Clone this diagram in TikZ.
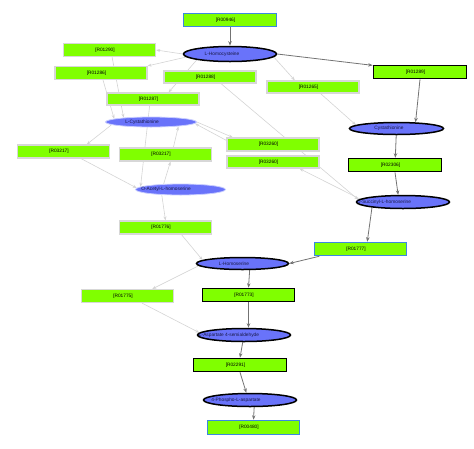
\documentclass[tikz,border=0pt]{standalone}
\usepackage{fontspec}
\setmainfont{Liberation Sans}
\usetikzlibrary{arrows.meta,backgrounds,calc,shapes.geometric}
\definecolor{boxgreen}{RGB}{128,255,0}
\definecolor{ellblue}{RGB}{105,115,250}
\definecolor{lightedge}{RGB}{212,212,212}
\definecolor{darkedge}{RGB}{115,115,115}
\definecolor{boxblue}{RGB}{60,135,225}
\definecolor{boxgray}{RGB}{215,215,215}
\definecolor{elllight}{RGB}{200,205,255}
\definecolor{cpdtext}{RGB}{25,25,70}
\tikzset{
 rxn/.style={rectangle, fill=boxgreen, minimum width=92pt, minimum height=13pt, inner sep=0pt,
   font=\fontsize{4.8}{5}\selectfont, execute at begin node=\kern-9pt},
 rxnlight/.style={rxn, draw=boxgray, line width=1.2pt},
 rxnbold/.style={rxn, draw=black, line width=1.6pt},
 rxnblue/.style={rxn, draw=boxblue, line width=1.5pt},
 cpd/.style={ellipse, fill=ellblue, inner sep=0pt, minimum width=92pt, minimum height=12pt},
 cpdbold/.style={cpd, draw=black, line width=1.5pt},
 cpdlight/.style={cpd, draw=elllight, line width=0.8pt},
 cpdlab/.style={font=\fontsize{4.8}{5}\selectfont, inner sep=0pt, text=cpdtext},
 mainflow/.style={draw=darkedge, line width=0.8pt, -{Stealth[length=4.5pt,width=3.5pt]}},
 sideflow/.style={draw=lightedge, line width=0.6pt, -{Stealth[length=4pt,width=3pt]}},
}
\begin{document}
\begin{tikzpicture}[x=1pt,y=-1pt]
\useasboundingbox (0,0) rectangle (474,448);
% reactions and compounds
\node[rxnblue, minimum width=93pt] (r00946) at (230,20) {[R00946]};
\node[cpdbold, minimum width=93pt, minimum height=15pt, label={[cpdlab,xshift=-8pt]center:L-Homocysteine}] (hcys) at (230,54) {};
\node[rxnlight] (r01290) at (109.5,50) {[R01290]};
\node[rxnlight] (r01286) at (101,73) {[R01286]};
\node[rxnlight, minimum height=12pt] (r01288) at (210,77) {[R01288]};
\node[rxnlight, minimum height=12pt] (r01287) at (153,99) {[R01287]};
\node[rxnbold, minimum width=93pt] (r01289) at (420,72) {[R01289]};
\node[rxnlight, minimum height=12pt] (r01265) at (313,87) {[R01265]};
\node[cpdlight, minimum width=91pt, minimum height=10pt, label={[cpdlab,xshift=-9pt]center:L-Cystathionine}] (lcys) at (151,122) {};
\node[cpdbold, minimum width=94pt, label={[cpdlab,xshift=-7.5pt]center:Cystathionine}] (cyst) at (396.5,128.5) {};
\node[rxnlight] (r03217a) at (63.5,151.5) {[R03217]};
\node[rxnlight] (r03217b) at (165.5,154.5) {[R03217]};
\node[rxnlight] (r03260a) at (273,144.5) {[R03260]};
\node[rxnlight, minimum height=12pt] (r03260b) at (273,162) {[R03260]};
\node[rxnbold, minimum width=93pt] (r02306) at (395,165) {[R02306]};
\node[cpdlight, minimum width=90pt, minimum height=11pt, label={[cpdlab,xshift=-14.5pt]center:O-Acetyl-L-homoserine}] (oace) at (180.5,189.5) {};
\node[cpdbold, minimum width=93pt, minimum height=13pt, label={[cpdlab,xshift=-19pt]center:O-Succinyl-L-homoserine}] (osuc) at (403,202) {};
\node[rxnlight] (r01776) at (165.5,227.5) {[R01776]};
\node[rxnblue] (r01777) at (360.5,249) {[R01777]};
\node[cpdbold, label={[cpdlab,xshift=-8.5pt]center:L-Homoserine}] (hser) at (242.5,263.5) {};
\node[rxnlight] (r01775) at (127.5,296) {[R01775]};
\node[rxnbold] (r01773) at (248.5,295) {[R01773]};
\node[cpdbold, minimum width=93pt, minimum height=13pt, label={[cpdlab,xshift=-15pt]center:L-Aspartate 4-semialdehyde}] (asa) at (244,335) {};
\node[rxnbold, minimum width=93pt] (r02291) at (240,365) {[R02291]};
\node[cpdbold, minimum width=93pt, minimum height=13pt, label={[cpdlab,xshift=-14pt]center:4-Phospho-L-aspartate}] (pasp) at (250,400) {};
\node[rxnblue, minimum height=14pt] (r00480) at (253.5,427.5) {[R00480]};
% connectors
\begin{scope}[on background layer]
\draw[sideflow] (hcys.west) -- (r01290.east);
\draw[sideflow] (hcys.184) -- (r01286.north east);
\draw[sideflow] (hcys.190) -- (r01287.23);
\draw[sideflow] (hcys.-4) -- (r01265.160);
\draw[sideflow] (r01288.-31) -- (osuc.177);
\draw[sideflow] (r01265.-41) -- (cyst.175);
\draw[sideflow] (r01290.-70) -- (lcys.171);
\draw[sideflow] (r01286.-74) -- (lcys.175);
\draw[sideflow] (r01287.-117) -- (oace.176);
\draw[sideflow] (lcys.-176) -- (r03217a.17);
\draw[sideflow] (r03217a.-22) -- (oace.178);
\draw[sideflow] (oace.162) -- (r03217b.-55);
\draw[sideflow] (r03217b.42) -- (lcys.-9);
\draw[sideflow] (oace.196) -- (r01776.north);
\draw[sideflow] (r01776.-24) -- (hser.175);
\draw[sideflow] (hser.183) -- (r01775.16);
\draw[sideflow] (r01775.-26) -- (asa.177);
\draw[sideflow] (lcys.east) -- (r03260a.170);
\draw[sideflow] (r03260a.175) -- (lcys.-2);
\draw[sideflow] (osuc.176) -- (r03260b.-14);
\draw[mainflow] (r00946) -- (hcys);
\draw[mainflow] (hcys.east) -- (r01289.172);
\draw[mainflow] (r01289.south) -- (cyst.18);
\draw[mainflow] (cyst) -- (r02306);
\draw[mainflow] (r02306.south) -- (osuc.124);
\draw[mainflow] (osuc.190) -- (r01777.47);
\draw[mainflow] (r01777.190) -- (hser.east);
\draw[mainflow] (hser.-43) -- (r01773.north);
\draw[mainflow] (r01773.south) -- (r01773.south |- asa.north);
\draw[mainflow] (asa.-100) -- (r02291.north);
\draw[mainflow] (r02291.south) -- (pasp.117);
\draw[mainflow] (pasp.-60) -- (r00480.north);
\end{scope}
\end{tikzpicture}
\end{document}
